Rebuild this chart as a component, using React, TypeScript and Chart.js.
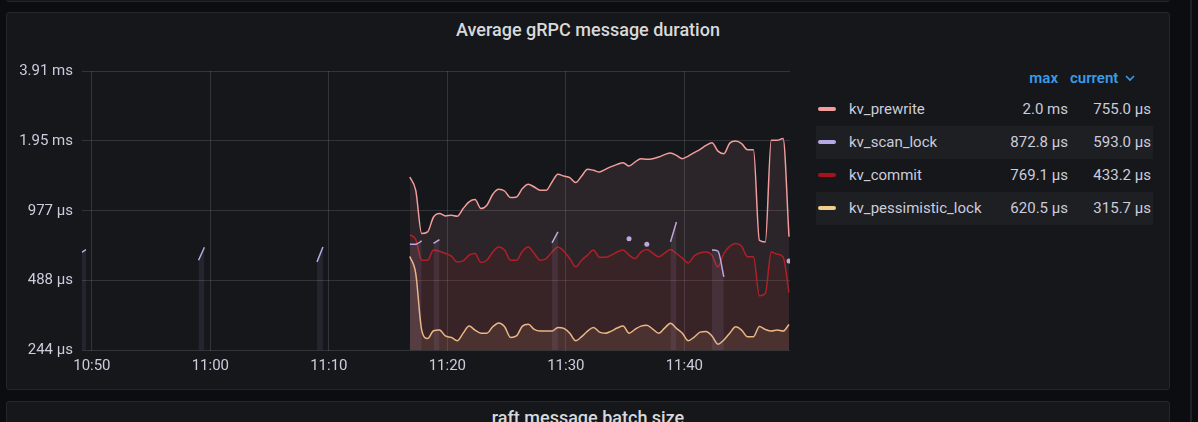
import React, { useEffect, useRef } from "react";
import { Chart, registerables } from "chart.js";

Chart.register(...registerables);

const panelTitle = "Average gRPC message duration";
const nextPanelTitle = "raft message batch size";

const xTickLabels = ["10:50", "11:00", "11:10", "11:20", "11:30", "11:40"];
const xRangeStart = "10:49:10";
const xRangeEnd = "11:48:55";
const yTickValues = [244.140625, 488.28125, 976.5625, 1953.125, 3906.25];
const yTickLabels = ["244 µs", "488 µs", "977 µs", "1.95 ms", "3.91 ms"];

const times = [
  "11:16:50", "11:17:20", "11:17:50", "11:18:20", "11:18:50", "11:19:20", "11:19:50", "11:20:20",
  "11:20:50", "11:21:20", "11:21:50", "11:22:20", "11:22:50", "11:23:20", "11:23:50", "11:24:20",
  "11:24:50", "11:25:20", "11:25:50", "11:26:20", "11:26:50", "11:27:20", "11:27:50", "11:28:20",
  "11:28:50", "11:29:20", "11:29:50", "11:30:20", "11:30:50", "11:31:20", "11:31:50", "11:32:20",
  "11:32:50", "11:33:20", "11:33:50", "11:34:20", "11:34:50", "11:35:20", "11:35:50", "11:36:20",
  "11:36:50", "11:37:20", "11:37:50", "11:38:20", "11:38:50", "11:39:20", "11:39:50", "11:40:20",
  "11:40:50", "11:41:20", "11:41:50", "11:42:20", "11:42:50", "11:43:20", "11:43:50", "11:44:20",
  "11:44:50", "11:45:20", "11:45:50", "11:46:20", "11:46:50", "11:47:20", "11:47:50", "11:48:20",
  "11:48:50",
];

// values in µs
const kvPrewrite = [
  1365, 1196, 779, 792, 918, 950, 928, 934, 925, 998, 1066, 1091, 998, 1032, 1150, 1208,
  1188, 1113, 1119, 1217, 1270, 1236, 1196, 1196, 1299, 1401, 1378, 1357, 1291, 1378, 1473, 1459,
  1434, 1473, 1512, 1547, 1574, 1522, 1583, 1637, 1627, 1637, 1664, 1704, 1731, 1692, 1637, 1680,
  1738, 1796, 1868, 1918, 1765, 1721, 1910, 1949, 1900, 1790, 1790, 729, 717, 1963, 1963, 2000,
  755,
];
const kvScanLock = [
  701, 701, 724, null, 706, 734, null, null, null, null, null, null, null, null, null, null,
  null, null, null, null, null, null, null, null, 710, 792, null, null, null, null, null, null,
  null, null, null, null, null, 739, null, null, 701, null, null, null, 717, 872.8, null, null,
  null, null, null, 661, 654, 507, null, null, null, null, null, null, null, null, null, null,
  593,
];
const kvCommit = [
  769.1, 734, 598, 598, 661, 654, 639, 622, 588, 594, 629, 639, 585, 598, 649, 682,
  661, 598, 598, 654, 682, 639, 598, 608, 649, 682, 654, 608, 560, 598, 629, 661,
  616, 615, 629, 649, 661, 629, 608, 648, 665, 641, 618, 641, 665, 639, 610, 582,
  624, 644, 649, 629, 560, 639, 687, 706, 687, 618, 618, 420, 430, 649, 635, 618,
  433.2,
];
const kvPessimisticLock = [
  620.5, 524, 299, 275, 297, 299, 282, 278, 269, 290, 311, 299, 290, 290, 309, 321,
  309, 278, 282, 311, 317, 301, 296, 296, 296, 307, 304, 290, 269, 280, 296, 307,
  293, 290, 296, 305, 311, 290, 301, 311, 314, 302, 290, 305, 320, 304, 290, 269,
  279, 293, 295, 282, 260, 271, 290, 309, 299, 280, 280, 310, 301, 296, 299, 296,
  315.7,
];
const scanLockEarlyTimes = ["10:49:00", "10:49:30", "10:59:00", "10:59:30", "11:09:00", "11:09:30"];
const scanLockEarly = [639, 664, 598, 680, 588, 682];

const seriesNames = ["kv_prewrite", "kv_scan_lock", "kv_commit", "kv_pessimistic_lock"];
const seriesColors = ["#f29c9c", "#b7a9e6", "#a8121c", "#f2cd8e"];
const legendMax = ["2.0 ms", "872.8 µs", "769.1 µs", "620.5 µs"];
const legendCurrent = ["755.0 µs", "593.0 µs", "433.2 µs", "315.7 µs"];

const FONT = "Roboto, 'Noto Sans', 'DejaVu Sans', sans-serif";

function toMin(s: string): number {
  const p = s.split(":").map(Number);
  return p[0] * 60 + p[1] + (p[2] || 0) / 60;
}

function buildPoints(ts: string[], vals: (number | null)[]) {
  const out: { x: number; y: number | null }[] = [];
  for (let i = 0; i < ts.length; i++) {
    const x = toMin(ts[i]);
    if (out.length) {
      const prev = out[out.length - 1];
      if (x - prev.x > 0.75) out.push({ x: (x + prev.x) / 2, y: null });
    }
    out.push({ x, y: vals[i] });
  }
  return out;
}

function hexA(hex: string, a: number) {
  const n = parseInt(hex.slice(1), 16);
  return `rgba(${(n >> 16) & 255},${(n >> 8) & 255},${n & 255},${a})`;
}

function isolatedRadius(ctx: any) {
  const d = ctx.dataset.data;
  const i = ctx.dataIndex;
  if (!d[i] || d[i].y == null) return 0;
  const prev = i > 0 ? d[i - 1].y : null;
  const next = i < d.length - 1 ? d[i + 1].y : null;
  return prev == null && next == null ? 2.5 : 0;
}

function ChartCanvas() {
  const ref = useRef<HTMLCanvasElement | null>(null);
  useEffect(() => {
    if (!ref.current) return;
    const seriesData = [
      buildPoints(times, kvPrewrite),
      buildPoints([...scanLockEarlyTimes, ...times], [...scanLockEarly, ...kvScanLock]),
      buildPoints(times, kvCommit),
      buildPoints(times, kvPessimisticLock),
    ];
    const chart = new Chart(ref.current, {
      type: "line",
      data: {
        datasets: seriesNames.map((name, k) => ({
          label: name,
          data: seriesData[k],
          borderColor: seriesColors[k],
          backgroundColor: hexA(seriesColors[k], 0.1),
          pointBackgroundColor: seriesColors[k],
          pointBorderWidth: 0,
          pointRadius: isolatedRadius,
          pointHoverRadius: 0,
          borderWidth: 1.5,
          fill: "start",
          spanGaps: false,
          cubicInterpolationMode: "monotone" as const,
        })),
      },
      options: {
        responsive: false,
        animation: false,
        parsing: false as any,
        normalized: true,
        events: [],
        layout: { padding: { top: 71, right: 10, bottom: 9.5, left: 0 } },
        plugins: { legend: { display: false }, tooltip: { enabled: false }, title: { display: false } },
        scales: {
          x: {
            type: "linear",
            min: toMin(xRangeStart),
            max: toMin(xRangeEnd),
            border: { display: false },
            grid: { color: "rgba(204,204,220,0.16)", lineWidth: 1, drawTicks: false },
            ticks: {
              color: "#ccccdc",
              font: { family: FONT, size: 15 },
              padding: 7,
              maxRotation: 0,
              autoSkip: false,
              callback: (_v: any, i: number) => xTickLabels[i],
            },
            afterBuildTicks: (scale: any) => {
              scale.ticks = xTickLabels.map((l) => ({ value: toMin(l) }));
            },
            afterFit: (scale: any) => {
              scale.height = 30;
            },
          },
          y: {
            type: "logarithmic",
            min: yTickValues[0],
            max: yTickValues[yTickValues.length - 1],
            border: { display: false },
            grid: { color: "rgba(204,204,220,0.16)", lineWidth: 1, drawTicks: false },
            ticks: {
              color: "#ccccdc",
              font: { family: FONT, size: 15 },
              padding: 9,
              autoSkip: false,
              callback: (_v: any, i: number) => yTickLabels[i],
            },
            afterBuildTicks: (scale: any) => {
              scale.ticks = yTickValues.map((v) => ({ value: v }));
            },
            afterFit: (scale: any) => {
              scale.width = 82;
            },
          },
        },
      },
    } as any);
    return () => chart.destroy();
  }, []);
  return (
    <canvas
      ref={ref}
      width={800}
      height={390}
      style={{ position: "absolute", left: 0, top: 0, width: 800, height: 390 }}
    />
  );
}

const panelBox = {
  position: "absolute" as const,
  left: 6,
  width: 1164,
  background: "#15171b",
  border: "1px solid #24262b",
  borderRadius: 3,
  boxSizing: "border-box" as const,
};

const titleStyle = {
  position: "absolute" as const,
  left: 6,
  width: 1164,
  height: 22,
  lineHeight: "22px",
  textAlign: "center" as const,
  color: "#d8d9da",
  fontSize: 18,
  fontWeight: 500,
};

export default function App() {
  const rowTop = 92.5;
  const rowH = 33;
  return (
    <div
      style={{
        position: "fixed",
        left: 0,
        top: 0,
        width: 1198,
        height: 422,
        background: "#0c0d10",
        overflow: "hidden",
        fontFamily: FONT,
      }}
    >
      <div style={{ ...panelBox, top: -20, height: 22 }} />
      <div style={{ ...panelBox, top: 12, height: 378 }} />
      <div style={{ ...titleStyle, top: 19 }}>{panelTitle}</div>
      <ChartCanvas />
      <div
        style={{
          position: "absolute",
          left: 990,
          width: 68,
          top: 69,
          height: 18,
          lineHeight: "18px",
          textAlign: "right",
          color: "#3b9be6",
          fontSize: 15,
          fontWeight: 600,
        }}
      >
        max
      </div>
      <div
        style={{
          position: "absolute",
          left: 1070,
          top: 69,
          height: 18,
          lineHeight: "18px",
          color: "#3b9be6",
          fontSize: 15,
          fontWeight: 600,
          display: "flex",
          alignItems: "center",
        }}
      >
        current
        <svg width="12" height="10" style={{ marginLeft: 6 }}>
          <polyline points="2,3 6,7 10,3" fill="none" stroke="#3b9be6" strokeWidth="1.6" />
        </svg>
      </div>
      {seriesNames.map((name, k) => (
        <div
          key={name}
          style={{
            position: "absolute",
            left: 816,
            width: 337,
            top: rowTop + k * rowH,
            height: rowH,
            background: k % 2 === 1 ? "rgba(255,255,255,0.035)" : "transparent",
            color: "#ccccdc",
            fontSize: 15,
          }}
        >
          <div
            style={{
              position: "absolute",
              left: 2,
              top: rowH / 2 - 2,
              width: 18,
              height: 4,
              borderRadius: 2,
              background: seriesColors[k],
            }}
          />
          <div style={{ position: "absolute", left: 33, top: 0, lineHeight: rowH + "px" }}>{name}</div>
          <div
            style={{
              position: "absolute",
              right: 85,
              top: 0,
              lineHeight: rowH + "px",
              textAlign: "right",
              whiteSpace: "nowrap",
            }}
          >
            {legendMax[k]}
          </div>
          <div
            style={{
              position: "absolute",
              right: 2,
              top: 0,
              lineHeight: rowH + "px",
              textAlign: "right",
              whiteSpace: "nowrap",
            }}
          >
            {legendCurrent[k]}
          </div>
        </div>
      ))}
      <div style={{ ...panelBox, top: 401, height: 60 }} />
      <div style={{ ...titleStyle, top: 407 }}>{nextPanelTitle}</div>
      <div style={{ position: "absolute", left: 1190, top: 0, width: 2, height: 422, background: "#1f2125" }} />
    </div>
  );
}
